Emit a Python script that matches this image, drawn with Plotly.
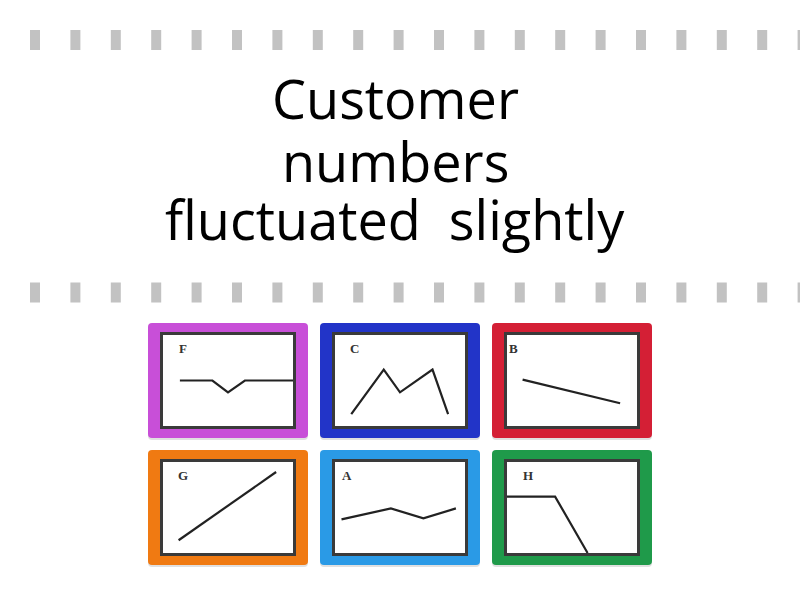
import plotly.graph_objects as go

# prompt text
title_lines = ["Customer", "numbers", "fluctuated \u00a0slightly"]

# answer cards: letter, line data (x, y on a 0-10 scale)
labels = ["F", "C", "B", "G", "A", "H"]
series_x = [
    [1.3, 3.8, 5.0, 6.3, 10.0],
    [1.25, 3.75, 5.0, 7.5, 8.7],
    [1.2, 8.7],
    [1.2, 8.7],
    [0.5, 4.3, 6.8, 9.3],
    [0.0, 3.7, 6.2],
]
series_y = [
    [5.0, 5.0, 3.7, 5.0, 5.0],
    [1.3, 6.2, 3.7, 6.2, 1.3],
    [5.1, 2.5],
    [1.4, 8.9],
    [3.7, 4.9, 3.8, 4.9],
    [6.2, 6.2, 0.0],
]
card_colors = ["#c84fd8", "#2234c8", "#d41f35", "#f07a12", "#2a9ae6", "#1f9a4a"]

W, H = 800, 600
col_x = [148, 320, 492]
row_y = [323, 450]
card_w, card_h = 160, 115
label_dx = [1.5, 1.5, 0.5, 1.5, 0.9, 1.6]
title_y = [98, 161, 219]


def px(x):
    return x / W


def py(y):
    return 1 - y / H


def rounded(x0, y0, x1, y1, r=4):
    # rounded rectangle path in paper coordinates
    p = [
        (x0 + r, y0), (x1 - r, y0), (x1, y0), (x1, y0 + r),
        (x1, y1 - r), (x1, y1), (x1 - r, y1),
        (x0 + r, y1), (x0, y1), (x0, y1 - r),
        (x0, y0 + r), (x0, y0), (x0 + r, y0),
    ]
    c = [(px(a), py(b)) for a, b in p]
    s = "M %f,%f L %f,%f Q %f,%f %f,%f L %f,%f Q %f,%f %f,%f L %f,%f Q %f,%f %f,%f L %f,%f Q %f,%f %f,%f Z" % (
        c[0] + c[1] + c[2] + c[3] + c[4] + c[5] + c[6] + c[7] + c[8] + c[9] + c[10] + c[11] + c[12])
    return s


fig = go.Figure()
shapes = []
annotations = []

# dashed separators
for yy in [40, 292.5]:
    shapes.append(dict(type="line", xref="paper", yref="paper",
                       x0=px(30), x1=px(805), y0=py(yy), y1=py(yy),
                       line=dict(color="#c2c2c2", width=20, dash="10px,30.4px")))

for i, lab in enumerate(labels):
    cx = col_x[i % 3]
    cy = row_y[i // 3]
    # shadow + coloured card + white face
    shapes.append(dict(type="path", xref="paper", yref="paper", layer="below",
                       path=rounded(cx, cy + 2, cx + card_w, cy + card_h + 2),
                       fillcolor="rgba(0,0,0,0.12)", line=dict(width=0)))
    shapes.append(dict(type="path", xref="paper", yref="paper", layer="below",
                       path=rounded(cx, cy, cx + card_w, cy + card_h),
                       fillcolor=card_colors[i], line=dict(width=0)))
    shapes.append(dict(type="rect", xref="paper", yref="paper", layer="below",
                       x0=px(cx + 13), x1=px(cx + card_w - 13),
                       y0=py(cy + 10), y1=py(cy + card_h - 10),
                       fillcolor="white", line=dict(width=0)))

    n = "" if i == 0 else str(i + 1)
    fig.add_trace(go.Scatter(x=series_x[i], y=series_y[i], mode="lines",
                             line=dict(color="#222222", width=2.2),
                             xaxis="x" + n, yaxis="y" + n,
                             hoverinfo="skip", showlegend=False))
    ax = dict(domain=[px(cx + 15), px(cx + card_w - 15)], range=[0, 10],
              showline=True, mirror=True, linecolor="#3a3a3a", linewidth=2.5,
              showgrid=False, zeroline=False, showticklabels=False, ticks="",
              fixedrange=True)
    ay = dict(ax, domain=[py(cy + card_h - 12), py(cy + 12)])
    ax["anchor"] = "y" + n
    ay["anchor"] = "x" + n
    fig.update_layout({"xaxis" + n: ax, "yaxis" + n: ay})
    annotations.append(dict(text="<b>" + lab + "</b>", x=label_dx[i], y=8.5,
                            xref="x" + n, yref="y" + n, showarrow=False,
                            xanchor="center", yanchor="middle",
                            font=dict(family="Liberation Serif", size=13, color="#333")))

# title lines are placed one by one to keep the tight line spacing of the original
for k, line in enumerate(title_lines):
    annotations.append(dict(text=line, x=px(395), y=py(title_y[k]),
                            xref="paper", yref="paper", showarrow=False,
                            xanchor="center", yanchor="middle",
                            font=dict(family="Open Sans", size=54, color="black")))

fig.update_layout(width=W, height=H, margin=dict(l=0, r=0, t=0, b=0),
                  paper_bgcolor="white", plot_bgcolor="rgba(0,0,0,0)",
                  shapes=shapes, annotations=annotations, showlegend=False)

fig.write_html("out.html", config={"displayModeBar": False},
               post_script="document.body.style.margin='0';")
